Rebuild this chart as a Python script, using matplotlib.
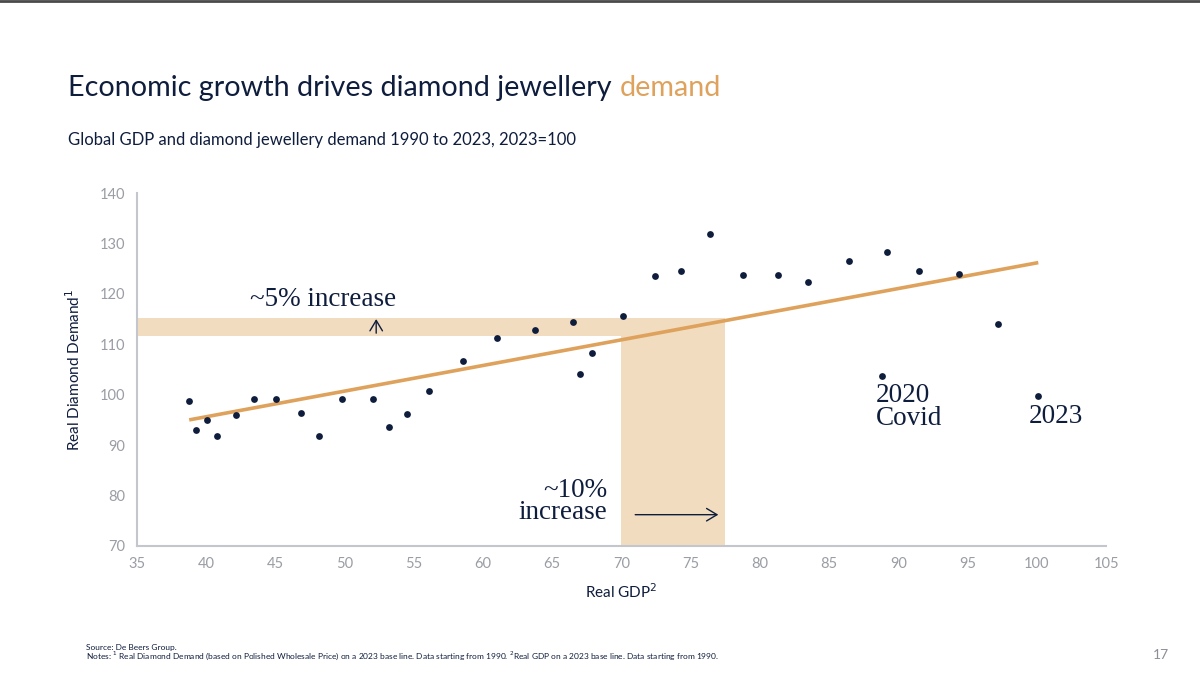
import numpy as np
import matplotlib.pyplot as plt

# Data (1990 to 2023, 2023=100)
gdp = [38.8, 39.3, 40.1, 40.8, 42.2, 43.5, 45.1, 46.9, 48.2, 49.8,
       52.1, 53.2, 54.5, 56.1, 58.6, 61.0, 63.8, 66.5, 67.0, 67.9,
       70.1, 72.4, 74.3, 76.4, 78.8, 81.3, 83.5, 86.4, 89.2, 91.5,
       94.4, 97.2, 88.8, 100.1]
demand = [98.8, 93.0, 95.0, 91.8, 96.0, 99.2, 99.2, 96.4, 91.8, 99.2,
          99.2, 93.6, 96.2, 100.8, 106.7, 111.3, 112.9, 114.4, 104.1, 108.3,
          115.6, 123.6, 124.6, 131.9, 123.8, 123.8, 122.4, 126.5, 128.3, 124.6,
          124.0, 114.0, 103.7, 99.8]

trend_x = [38.8, 100.1]
trend_y = [95.0, 126.2]

band_h = (111.7, 115.2)   # ~5% increase band
band_v = (70.0, 77.5)     # ~10% increase band

navy = '#0f1d3d'
tan = '#dea25c'
band = '#f1dcbf'
grey = '#8c8f96'
sans = ['Lato', 'DejaVu Sans']
serif = ['Liberation Serif', 'DejaVu Serif']

fig = plt.figure(figsize=(12, 6.74), dpi=100)
ax = fig.add_axes([0.1138, 0.19, 0.808, 0.5236])

ax.set_xlim(35, 105)
ax.set_ylim(70, 140)

# Shaded bands
ax.fill_between([35, band_v[1]], band_h[0], band_h[1], color=band, lw=0, zorder=1)
ax.fill_between([band_v[0], band_v[1]], 70, band_h[0], color=band, lw=0, zorder=1)

# Trend line and points
ax.plot(trend_x, trend_y, color=tan, lw=2.6, zorder=2, solid_capstyle='butt')
ax.scatter(gdp, demand, s=24, color=navy, zorder=3, lw=0)

# Axes styling
for side in ['top', 'right']:
    ax.spines[side].set_visible(False)
for side in ['left', 'bottom']:
    ax.spines[side].set_color('#c3c6cc')
    ax.spines[side].set_linewidth(1.5)
ax.set_xticks(np.arange(35, 106, 5))
ax.set_yticks(np.arange(70, 141, 10))
ax.tick_params(length=0, labelsize=10.5, labelcolor='#9a9da4', pad=8)
for lab in ax.get_xticklabels() + ax.get_yticklabels():
    lab.set_family(sans)

ax.set_xlabel('Real GDP$^2$', fontsize=11, color=navy, family=sans, labelpad=8)
ax.set_ylabel('Real Diamond Demand$^1$', fontsize=11, color=navy, family=sans, labelpad=12)

# Annotations
arrow = dict(arrowstyle='->,head_length=0.5,head_width=0.3', color=navy, lw=1.0,
             shrinkA=0, shrinkB=0, mutation_scale=15)
ax.text(48.5, 116.4, '~5% increase', fontsize=19.5, color=navy, family=serif, ha='center', va='bottom')
ax.annotate('', xy=(52.3, 115.0), xytext=(52.3, 112.2), arrowprops=arrow)
ax.text(69.0, 74.2, '~10%\nincrease', fontsize=19.5, color=navy, family=serif,
        ha='right', va='bottom', linespacing=0.85)
ax.annotate('', xy=(77.0, 76.2), xytext=(71.0, 76.2), arrowprops=arrow)
ax.text(88.4, 102.4, '2020\nCovid', fontsize=19.5, color=navy, family=serif,
        ha='left', va='top', linespacing=0.9)
ax.text(99.4, 98.2, '2023', fontsize=19.5, color=navy, family=serif, ha='left', va='top')

# Titles
t = fig.text(0.057, 0.87, 'Economic growth drives diamond jewellery ', fontsize=20.7,
             color=navy, family=sans, va='center')
fig.canvas.draw()
bb = t.get_window_extent()
fig.text(bb.x1 / fig.bbox.width, 0.87, 'demand', fontsize=20.7, color=tan, family=sans,
         va='center')
fig.text(0.057, 0.792, 'Global GDP and diamond jewellery demand 1990 to 2023, 2023=100',
         fontsize=12, color=navy, family=sans, va='center')

# Footer
fig.text(0.072, 0.036, 'Source: De Beers Group.', fontsize=6, color=navy, family=sans)
fig.text(0.072, 0.022, 'Notes: $^1$ Real Diamond Demand (based on Polished Wholesale Price) on a 2023 base line. '
         'Data starting from 1990. $^2$Real GDP on a 2023 base line. Data starting from 1990.',
         fontsize=6, color=navy, family=sans)
fig.text(0.974, 0.022, '17', fontsize=10, color=grey, family=sans, ha='right')

# Top border
fig.add_artist(plt.Line2D([0, 1], [0.998, 0.998], color='#4a4a4a', lw=2))

fig.savefig('out.png', dpi=100, facecolor='white')
